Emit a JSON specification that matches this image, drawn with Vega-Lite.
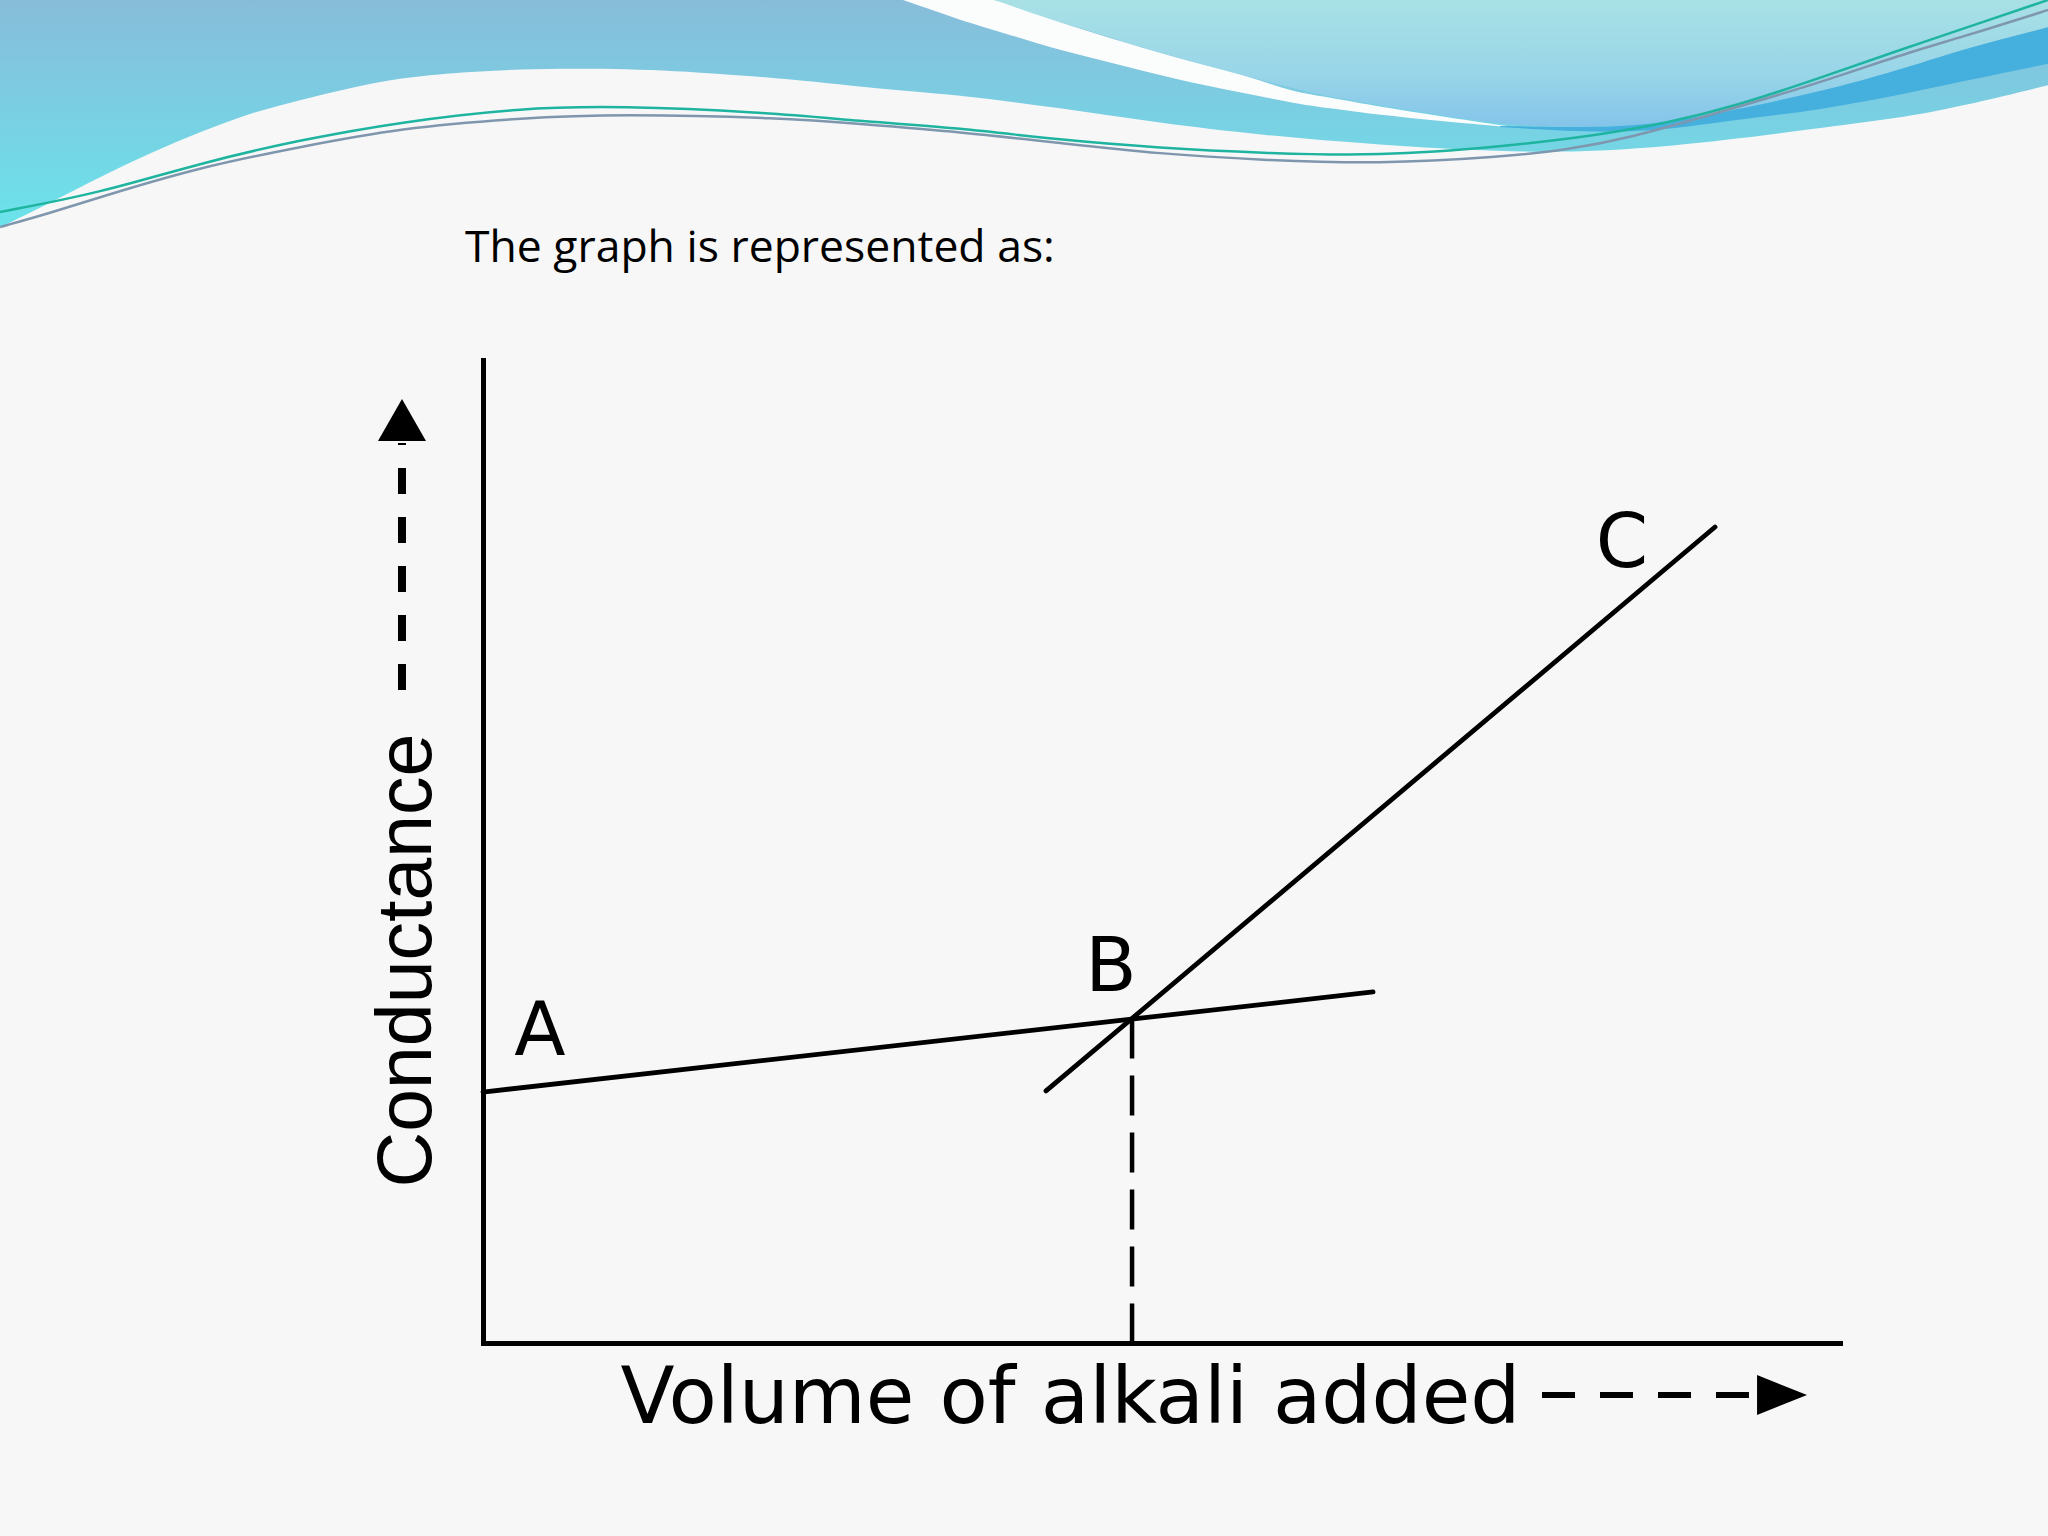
{
  "$schema": "https://vega.github.io/schema/vega-lite/v6.json",
  "width": 1357,
  "height": 983,
  "autosize": {"type": "none"},
  "padding": {"left": 483, "top": 360, "right": 208, "bottom": 193},
  "background": "#f7f7f7",
  "config": {"view": {"stroke": null}},
  "encoding": {
    "x": {
      "field": "x", "type": "quantitative",
      "scale": {"domain": [0, 10], "nice": false, "zero": false},
      "axis": {
        "title": "Volume of alkali added", "labels": false, "ticks": false, "grid": false,
        "domainColor": "black", "domainWidth": 5, "domainCap": "square",
        "titleFont": "DejaVu Sans", "titleFontSize": 79, "titleFontWeight": "normal", "titleColor": "black",
        "titleX": 587, "titleY": 79, "titleAlign": "center", "titleBaseline": "alphabetic"
      }
    },
    "y": {
      "field": "y", "type": "quantitative",
      "scale": {"domain": [0, 10], "nice": false, "zero": false},
      "axis": {
        "title": "Conductance", "labels": false, "ticks": false, "grid": false,
        "domainColor": "black", "domainWidth": 5, "domainCap": "square",
        "titleFont": "Liberation Sans", "titleFontSize": 77, "titleFontWeight": "normal", "titleColor": "black",
        "titleX": -53, "titleY": 600, "titleAngle": 270, "titleAlign": "center", "titleBaseline": "alphabetic"
      }
    }
  },
  "layer": [
    {
      "data": {"values": [
        {"x": -3.6, "y": 11.323, "top": 13.7},
        {"x": -3.191, "y": 11.597, "top": 13.7},
        {"x": -2.822, "y": 11.862, "top": 13.7},
        {"x": -2.454, "y": 12.106, "top": 13.7},
        {"x": -2.085, "y": 12.319, "top": 13.7},
        {"x": -1.717, "y": 12.513, "top": 13.7},
        {"x": -1.349, "y": 12.645, "top": 13.7},
        {"x": -0.98, "y": 12.767, "top": 13.7},
        {"x": -0.612, "y": 12.869, "top": 13.7},
        {"x": -0.243, "y": 12.92, "top": 13.7},
        {"x": 0.273, "y": 12.96, "top": 13.7},
        {"x": 0.862, "y": 12.97, "top": 13.7},
        {"x": 1.599, "y": 12.93, "top": 13.7},
        {"x": 2.336, "y": 12.848, "top": 13.7},
        {"x": 2.778, "y": 12.777, "top": 13.7},
        {"x": 3.515, "y": 12.696, "top": 13.7},
        {"x": 4.252, "y": 12.564, "top": 13.7},
        {"x": 4.989, "y": 12.411, "top": 13.7},
        {"x": 5.726, "y": 12.289, "top": 13.7},
        {"x": 6.61, "y": 12.187, "top": 13.7},
        {"x": 7.494, "y": 12.116, "top": 13.7},
        {"x": 8.231, "y": 12.116, "top": 13.7},
        {"x": 8.968, "y": 12.208, "top": 13.7},
        {"x": 9.462, "y": 12.289, "top": 13.7},
        {"x": 9.853, "y": 12.36, "top": 13.7},
        {"x": 10.442, "y": 12.462, "top": 13.7},
        {"x": 10.877, "y": 12.574, "top": 13.7},
        {"x": 11.6, "y": 12.818, "top": 13.7}
      ]},
      "mark": {
        "type": "area", "orient": "vertical", "interpolate": "basis", "clip": false,
        "fill": {"gradient": "linear", "x1": 0, "y1": 0, "x2": 0, "y2": 1,
          "stops": [{"offset": 0, "color": "#88bcd9"}, {"offset": 0.45, "color": "#7bcde2"}, {"offset": 1, "color": "#6ae4ea"}]}
      },
      "encoding": {"y2": {"field": "top"}}
    },
    {
      "data": {"values": [
        {"x": 3.714, "y": 13.662, "top": 13.7},
        {"x": 4.252, "y": 13.439, "top": 13.7},
        {"x": 4.746, "y": 13.225, "top": 13.7},
        {"x": 5.232, "y": 13.032, "top": 13.7},
        {"x": 5.726, "y": 12.848, "top": 13.7},
        {"x": 6.22, "y": 12.676, "top": 13.7},
        {"x": 6.758, "y": 12.564, "top": 13.7},
        {"x": 7.546, "y": 12.38, "top": 13.7},
        {"x": 8.231, "y": 12.36, "top": 13.7},
        {"x": 8.725, "y": 12.411, "top": 13.7},
        {"x": 9.211, "y": 12.543, "top": 13.7},
        {"x": 9.853, "y": 12.726, "top": 13.7},
        {"x": 10.442, "y": 12.95, "top": 13.7},
        {"x": 10.877, "y": 13.154, "top": 13.7},
        {"x": 11.6, "y": 13.408, "top": 13.7}
      ]},
      "mark": {
        "type": "area", "orient": "vertical", "interpolate": "basis", "clip": false,
        "fill": {"gradient": "linear", "x1": 0, "y1": 0, "x2": 0, "y2": 1,
          "stops": [{"offset": 0, "color": "#a9e1e5"}, {"offset": 0.6, "color": "#98d5e8"}, {"offset": 1, "color": "#84c4ea"}]}
      },
      "encoding": {"y2": {"field": "top"}}
    },
    {
      "data": {"values": [
        {"x": 3.095, "y": 13.662, "top": 13.7},
        {"x": 3.515, "y": 13.459, "top": 13.7},
        {"x": 3.714, "y": 13.377, "top": 13.7},
        {"x": 4.009, "y": 13.255, "top": 13.54},
        {"x": 4.252, "y": 13.154, "top": 13.439},
        {"x": 4.495, "y": 13.072, "top": 13.327},
        {"x": 4.746, "y": 12.981, "top": 13.225},
        {"x": 4.989, "y": 12.899, "top": 13.123},
        {"x": 5.232, "y": 12.818, "top": 13.032},
        {"x": 5.483, "y": 12.747, "top": 12.94},
        {"x": 5.726, "y": 12.686, "top": 12.848},
        {"x": 5.969, "y": 12.614, "top": 12.726},
        {"x": 6.22, "y": 12.564, "top": 12.676},
        {"x": 6.61, "y": 12.492, "top": 12.574},
        {"x": 7.052, "y": 12.431, "top": 12.482},
        {"x": 7.546, "y": 12.37, "top": 12.38}
      ]},
      "mark": {"type": "area", "orient": "vertical", "interpolate": "basis", "clip": false, "fill": "#fbfcfc"},
      "encoding": {"y2": {"field": "top"}}
    },
    {
      "data": {"values": [
        {"x": 7.494, "y": 12.37, "top": 12.38},
        {"x": 8.231, "y": 12.309, "top": 12.36},
        {"x": 8.725, "y": 12.34, "top": 12.411},
        {"x": 9.211, "y": 12.441, "top": 12.543},
        {"x": 9.853, "y": 12.543, "top": 12.726},
        {"x": 10.442, "y": 12.696, "top": 12.95},
        {"x": 10.877, "y": 12.828, "top": 13.154},
        {"x": 11.6, "y": 13.032, "top": 13.408}
      ]},
      "mark": {"type": "area", "orient": "vertical", "interpolate": "basis", "clip": false, "fill": "#45afdd"},
      "encoding": {"y2": {"field": "top"}}
    },
    {
      "data": {"values": [
        {"seg": "upper", "x": -3.559, "y": 11.506},
        {"seg": "upper", "x": -2.822, "y": 11.699},
        {"seg": "upper", "x": -2.085, "y": 12.004},
        {"seg": "upper", "x": -1.349, "y": 12.238},
        {"seg": "upper", "x": -0.612, "y": 12.421},
        {"seg": "upper", "x": 0.273, "y": 12.564},
        {"seg": "upper", "x": 1.01, "y": 12.584},
        {"seg": "upper", "x": 2.041, "y": 12.523},
        {"seg": "upper", "x": 2.778, "y": 12.431},
        {"seg": "upper", "x": 3.515, "y": 12.36},
        {"seg": "upper", "x": 4.252, "y": 12.238},
        {"seg": "upper", "x": 4.989, "y": 12.157},
        {"seg": "upper", "x": 5.726, "y": 12.106},
        {"seg": "upper", "x": 6.61, "y": 12.075},
        {"seg": "upper", "x": 7.494, "y": 12.167},
        {"seg": "upper", "x": 8.231, "y": 12.289},
        {"seg": "upper", "x": 8.725, "y": 12.411},
        {"seg": "upper", "x": 9.211, "y": 12.574},
        {"seg": "upper", "x": 9.853, "y": 12.869},
        {"seg": "upper", "x": 10.442, "y": 13.154},
        {"seg": "upper", "x": 10.877, "y": 13.357},
        {"seg": "upper", "x": 11.533, "y": 13.662},
        {"seg": "lower", "x": -3.559, "y": 11.353},
        {"seg": "lower", "x": -3.191, "y": 11.495},
        {"seg": "lower", "x": -2.822, "y": 11.658},
        {"seg": "lower", "x": -2.085, "y": 11.963},
        {"seg": "lower", "x": -1.349, "y": 12.167},
        {"seg": "lower", "x": -0.612, "y": 12.36},
        {"seg": "lower", "x": 0.273, "y": 12.462},
        {"seg": "lower", "x": 1.01, "y": 12.503},
        {"seg": "lower", "x": 2.218, "y": 12.462},
        {"seg": "lower", "x": 2.778, "y": 12.401},
        {"seg": "lower", "x": 3.515, "y": 12.319},
        {"seg": "lower", "x": 4.252, "y": 12.208},
        {"seg": "lower", "x": 4.989, "y": 12.096},
        {"seg": "lower", "x": 5.726, "y": 12.035},
        {"seg": "lower", "x": 6.61, "y": 11.994},
        {"seg": "lower", "x": 7.494, "y": 12.065},
        {"seg": "lower", "x": 7.988, "y": 12.136},
        {"seg": "lower", "x": 8.475, "y": 12.269},
        {"seg": "lower", "x": 8.968, "y": 12.462},
        {"seg": "lower", "x": 9.853, "y": 12.818},
        {"seg": "lower", "x": 10.442, "y": 13.103},
        {"seg": "lower", "x": 10.877, "y": 13.276},
        {"seg": "lower", "x": 11.533, "y": 13.56}
      ]},
      "mark": {"type": "line", "interpolate": "basis", "clip": false, "strokeWidth": 2.5},
      "encoding": {
        "color": {"field": "seg", "type": "nominal", "scale": {"domain": ["upper", "lower"], "range": ["#1eb4a0", "#7f97ae"]}, "legend": null}
      }
    },
    {
      "data": {"values": [{"text": "The graph is represented as:", "x": -0.133, "y": 10.997}]},
      "mark": {"type": "text", "align": "left", "baseline": "alphabetic", "font": "Open Sans", "fontSize": 44.5, "color": "black", "clip": false},
      "encoding": {"text": {"field": "text"}}
    },
    {
      "data": {"values": [
        {"seg": "AB", "x": 0, "y": 2.553},
        {"seg": "AB", "x": 6.559, "y": 3.571},
        {"seg": "BC", "x": 4.149, "y": 2.564},
        {"seg": "BC", "x": 9.079, "y": 8.301}
      ]},
      "mark": {"type": "line", "color": "black", "strokeWidth": 4.8, "strokeCap": "round"},
      "encoding": {"detail": {"field": "seg"}}
    },
    {
      "data": {"values": [{"x": 4.783, "y": 3.3, "y2": 0}]},
      "mark": {"type": "rule", "color": "black", "strokeWidth": 4.5, "strokeDash": [40, 17]},
      "encoding": {"y2": {"field": "y2"}}
    },
    {
      "data": {"values": [{"x": -0.597, "y": 6.643, "y2": 9.156}]},
      "mark": {"type": "rule", "color": "black", "strokeWidth": 8, "strokeDash": [26, 23], "clip": false},
      "encoding": {"y2": {"field": "y2"}}
    },
    {
      "data": {"values": [{"x": 7.804, "x2": 9.329, "y": -0.529}]},
      "mark": {"type": "rule", "color": "black", "strokeWidth": 6, "strokeDash": [33, 25], "clip": false},
      "encoding": {"x2": {"field": "x2"}}
    },
    {
      "data": {"values": [{"x": -0.597, "y": 9.39}]},
      "mark": {"type": "point", "shape": "M0,-0.875L1,0.875L-1,0.875Z", "size": 2304, "filled": true, "color": "black", "opacity": 1, "clip": false}
    },
    {
      "data": {"values": [{"x": 9.573, "y": -0.529}]},
      "mark": {"type": "point", "shape": "M-1,-0.8L1,0L-1,0.8Z", "size": 2500, "filled": true, "color": "black", "opacity": 1, "clip": false}
    },
    {
      "data": {"values": [
        {"label": "A", "x": 0.42, "y": 2.93},
        {"label": "B", "x": 4.628, "y": 3.581},
        {"label": "C", "x": 8.393, "y": 7.894}
      ]},
      "mark": {"type": "text", "align": "center", "baseline": "alphabetic", "font": "DejaVu Sans", "fontSize": 75, "color": "black"},
      "encoding": {"text": {"field": "label"}}
    }
  ]
}
